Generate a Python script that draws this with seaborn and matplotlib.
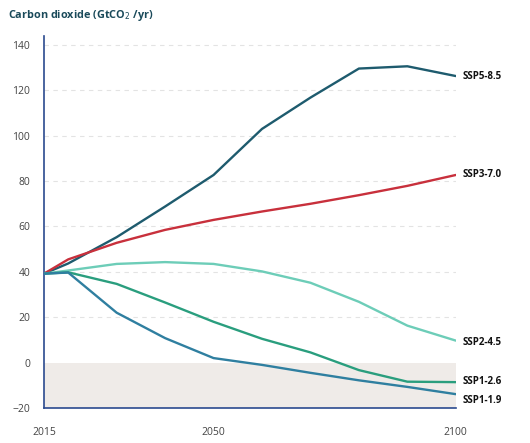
import matplotlib
matplotlib.use("Agg")
import matplotlib.pyplot as plt
import pandas as pd
import seaborn as sns

years = [2015, 2020, 2030, 2040, 2050, 2060, 2070, 2080, 2090, 2100]
ssp585 = [39.2, 43.7, 55.3, 68.8, 82.7, 103.0, 116.8, 129.6, 130.6, 126.3]
ssp370 = [39.2, 45.5, 52.8, 58.5, 62.9, 66.6, 70.0, 73.8, 77.9, 82.7]
ssp245 = [39.2, 40.6, 43.5, 44.3, 43.5, 40.2, 35.2, 26.8, 16.3, 9.7]
ssp126 = [39.2, 39.8, 34.7, 26.5, 18.0, 10.5, 4.5, -3.3, -8.4, -8.6]
ssp119 = [39.2, 39.7, 22.0, 10.8, 2.0, -1.0, -4.5, -7.8, -10.7, -13.9]

scenarios = ["SSP5-8.5", "SSP3-7.0", "SSP2-4.5", "SSP1-2.6", "SSP1-1.9"]
colores = ["#1e5b6e", "#c8303c", "#6dcdb8", "#2a9e7e", "#2f7fa0"]
label_y = [126.3, 82.7, 9.0, -8.5, -16.5]

x_ticks = [2015, 2050, 2100]
y_ticks = [-20, 0, 20, 40, 60, 80, 100, 120, 140]

dados = pd.DataFrame({"ano": years * 5,
                      "valor": ssp585 + ssp370 + ssp245 + ssp126 + ssp119,
                      "cenario": sum([[s] * len(years) for s in scenarios], [])})

sns.set_style("white")
plt.rcParams["font.family"] = ["Open Sans", "DejaVu Sans"]

fig = plt.figure(figsize=(5.3, 4.43), dpi=100)
ax = fig.add_axes([0.083, 0.079, 0.777, 0.84])

ax.axhspan(-20, 0, color="#efebe8", zorder=0, lw=0)
for y in y_ticks[2:]:
    ax.axhline(y, color="#e3e3e3", lw=0.8, ls=(0, (4, 4)), zorder=1)

sns.lineplot(data=dados, x="ano", y="valor", hue="cenario", palette=colores,
             hue_order=scenarios, lw=1.7, legend=False, ax=ax, zorder=3)

for nome, yy in zip(scenarios, label_y):
    ax.text(2101.3, yy, nome, fontsize=7, fontweight="bold", color="#111111",
            va="center", ha="left", clip_on=False)

ax.set_xlim(2015, 2100)
ax.set_ylim(-20, 144)
ax.set_xticks(x_ticks)
ax.set_yticks(y_ticks)
ax.tick_params(axis="x", length=8, width=1.2, color="#2b4a8f", direction="out",
               labelsize=7.5, labelcolor="#444444", pad=6)
ax.tick_params(axis="y", length=0, labelsize=7.5, labelcolor="#444444", pad=10)
ax.set_xlabel("")
ax.set_ylabel("")

for lado in ["top", "right"]:
    ax.spines[lado].set_visible(False)
for lado in ["left", "bottom"]:
    ax.spines[lado].set_color("#2b4a8f")
    ax.spines[lado].set_linewidth(1.2)

fig.text(0.015, 0.965, "Carbon dioxide (GtCO$_2$ /yr)", fontsize=7.8,
         fontweight="bold", color="#1a4a5a", va="center", ha="left")

fig.savefig("out.png", dpi=100)
